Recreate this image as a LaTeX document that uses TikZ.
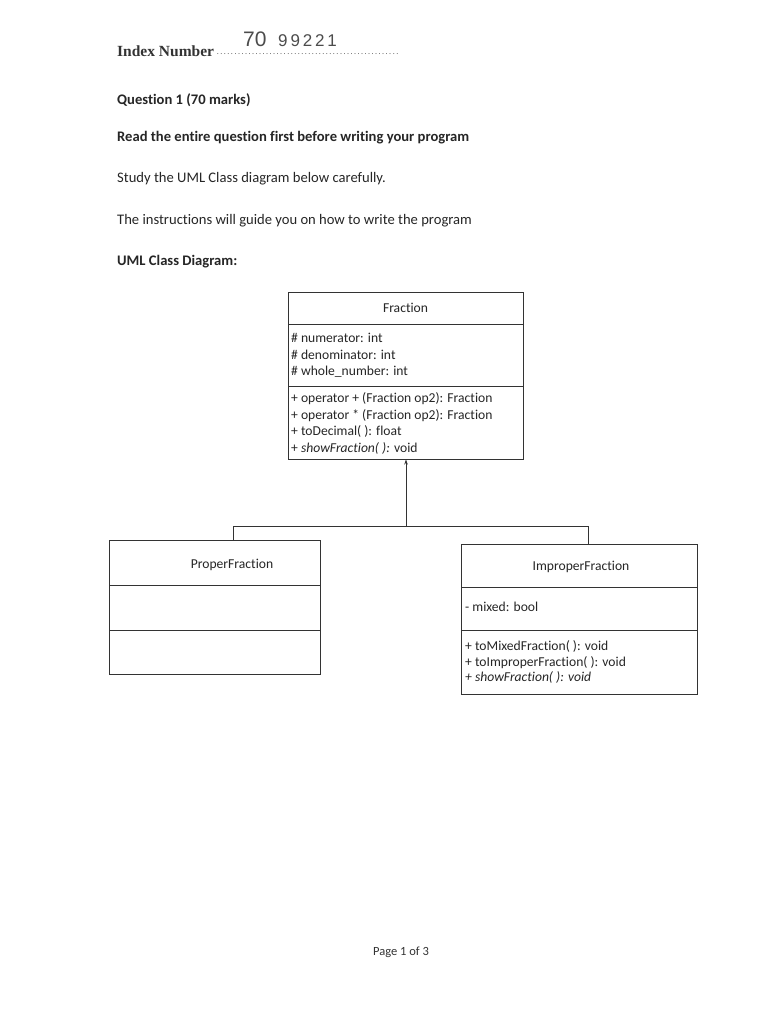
\documentclass[tikz,border=0pt]{standalone}
\usepackage{fontspec}
\setmainfont{Carlito}[Ligatures=NoCommon]
\newfontfamily\serifhead{Liberation Serif}
\newfontfamily\handfont{Liberation Sans}
\usetikzlibrary{arrows.meta}
\begin{document}
\begin{tikzpicture}[x=1pt,y=-1pt,
  line/.style={draw=black!80,line width=1pt},
  classbox/.style={line,rectangle,inner sep=0pt},
  txt/.style={anchor=base west,inner sep=0pt,font=\fontsize{14.6}{16}\selectfont,text=black!85},
  btxt/.style={txt,font=\fontsize{14.6}{16}\selectfont\bfseries},
  ctxt/.style={anchor=base west,inner sep=0pt,font=\fontsize{13.6}{15}\selectfont,text=black!85},
  cname/.style={anchor=base,inner sep=0pt,font=\fontsize{13.6}{15}\selectfont,text=black!85}]
\useasboundingbox (0,0) rectangle (768,1024);
\fill[white] (0,0) rectangle (768,1024);
% header
\node[anchor=base west,inner sep=0pt,font=\serifhead\fontsize{15.5}{17}\selectfont\bfseries,text=black!80] (idx) at (117,57) {Index Number};
\node[anchor=base west,inner sep=0pt,font=\fontsize{8}{10}\selectfont,text=black!70] (dots) at (215,55) {\makebox[185pt]{\dotfill}};
\node[anchor=base west,inner sep=0pt,font=\handfont\fontsize{19}{20}\selectfont,text=black!70] (hand) at (243,47) {\fontsize{21}{22}\selectfont 70\ \ \fontsize{17}{20}\selectfont 9\,9\,2\,2\,1};
\node[btxt] (q1) at (117,105) {Question 1 (70 marks)};
\node[btxt] (read) at (117,142) {Read the entire question first before writing your program};
\node[txt] (study) at (117,183) {Study the UML Class diagram below carefully.};
\node[txt] (instr) at (117,225) {The instructions will guide you on how to write the program};
\node[btxt] (uml) at (117,265) {UML Class Diagram:};
% Fraction
\node[classbox,minimum width=235pt,minimum height=167pt] (frac) at (405.5,375.5) {};
\draw[line] (288,324) coordinate (f1l) -- (523,324) coordinate (f1r);
\draw[line] (288,386) coordinate (f2l) -- (523,386) coordinate (f2r);
\node[cname] (fname) at (405.5,312.5) {Fraction};
\node[ctxt] (fa1) at (291,342.5) {\# numerator: int};
\node[ctxt] (fa2) at (291,359) {\# denominator: int};
\node[ctxt] (fa3) at (291,375.5) {\# whole\_number: int};
\node[ctxt] (fo1) at (291,402.5) {+ operator + (Fraction op2): Fraction};
\node[ctxt] (fo2) at (291,419) {+ operator * (Fraction op2): Fraction};
\node[ctxt] (fo3) at (291,435.5) {+ toDecimal( ): float};
\node[ctxt] (fo4) at (291,452) {+ \textit{showFraction( ):} void};
% ProperFraction
\node[classbox,minimum width=211pt,minimum height=134pt] (prop) at (214.5,607) {};
\draw[line] (109,585) -- (320,585);
\draw[line] (109,630) -- (320,630);
\node[cname] (pname) at (232,568.5) {ProperFraction};
% ImproperFraction
\node[classbox,minimum width=236pt,minimum height=150pt] (impr) at (579,619) {};
\draw[line] (461,587) -- (697,587);
\draw[line] (461,630) -- (697,630);
\node[cname] (iname) at (581,570.5) {ImproperFraction};
\node[ctxt] (ia1) at (465,611.5) {- mixed: bool};
\node[ctxt] (io1) at (465,650.5) {+ toMixedFraction( ): void};
\node[ctxt] (io2) at (465,666) {+ toImproperFraction( ): void};
\node[ctxt] (io3) at (465,681.5) {\textit{+ showFraction( ): void}};
% inheritance connectors
\coordinate (jn) at (406,526);
\coordinate (jl) at (233,526);
\coordinate (jr) at (588,526);
\draw[line] (prop.north -| jl) -- (jl) -- (jr) -- (impr.north -| jr);
\draw[line,-{Stealth[length=5pt,width=3.5pt]}] (jn) -- (jn |- frac.south);
% footer
\node[anchor=base,inner sep=0pt,font=\fontsize{12.5}{14}\selectfont,text=black!80] (page) at (401,955) {Page 1 of 3};
\end{tikzpicture}
\end{document}
